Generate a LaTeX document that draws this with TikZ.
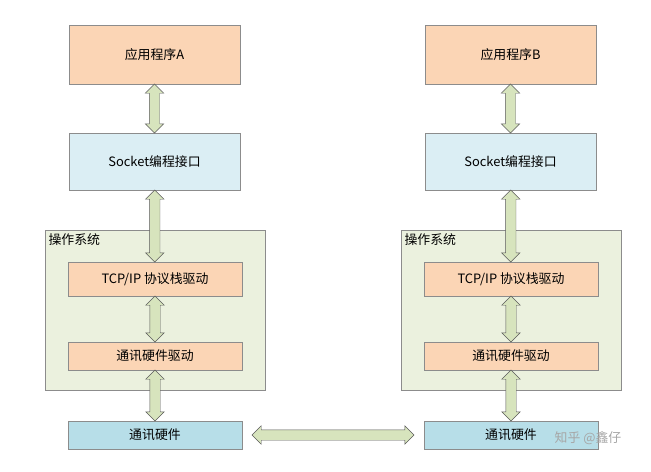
\documentclass[tikz,border=0pt]{standalone}
\usepackage{fontspec}
\setmainfont{Noto Sans CJK SC}
\usetikzlibrary{shapes.arrows}
\definecolor{appfill}{HTML}{FBD5B5}
\definecolor{sockfill}{HTML}{DBEEF4}
\definecolor{osfill}{HTML}{EBF1DE}
\definecolor{hwfill}{HTML}{B7DEE8}
\definecolor{linkfill}{HTML}{D7E4BD}
\begin{document}
\begin{tikzpicture}[x=0.03cm,y=-0.03cm,
  boxstyle/.style={draw=black!45, align=center, font=\fontsize{11}{13}\selectfont},
  app/.style={boxstyle, fill=appfill, minimum width=171*0.03cm, minimum height=59*0.03cm},
  sock/.style={boxstyle, fill=sockfill, minimum width=171*0.03cm, minimum height=57*0.03cm},
  os/.style={draw=black!45, fill=osfill, minimum width=220*0.03cm, minimum height=160*0.03cm},
  layer/.style={boxstyle, fill=appfill, minimum width=174*0.03cm},
  hw/.style={boxstyle, fill=hwfill, minimum width=174*0.03cm, minimum height=28*0.03cm},
  link/.style={double arrow, draw=black!65, fill=linkfill, inner sep=0pt, minimum width=10*0.03cm,
    text height=10*0.03cm, text width=10*0.03cm, text depth=0pt, double arrow head extend=4*0.03cm,
    shape border rotate=90}]
  \useasboundingbox (0,0) rectangle (651,471);
  \foreach \side/\name/\dx in {A/A/0, B/B/356} {
  \begin{scope}[xshift=\dx*0.03cm]
    \node [app] (App\side) at (154.5,54.5) {应用程序\name};
    \node [sock] (Sock\side) at (154.5,161.5) {Socket编程接口};
    \node [os] (OS\side) at (155,310) {};
    \node [anchor=north west, inner sep=3pt, font=\fontsize{11}{13}\selectfont] at (OS\side.north west) {操作系统};
    \node [layer, minimum height=34*0.03cm] (TCP\side) at (155,279) {TCP/IP 协议栈驱动};
    \node [layer, minimum height=28*0.03cm] (Drv\side) at (155,356) {通讯硬件驱动};
    \node [hw] (HW\side) at (155,435) {通讯硬件};
    \path (App\side.south) -- (Sock\side.north) node [link, midway, minimum height=49*0.03cm] {};
    \path (Sock\side.south) -- (TCP\side.north) node [link, midway, minimum height=72*0.03cm] {};
    \path (TCP\side.south) -- (Drv\side.north) node [link, midway, minimum height=46*0.03cm] {};
    \path (Drv\side.south) -- (HW\side.north) node [link, midway, minimum height=51*0.03cm] {};
  \end{scope}
  }
  \path (HWA.east) -- (HWB.west) node [link, midway, shape border rotate=0, minimum height=162*0.03cm] {};
  \node [text=black!35, font=\fontsize{11}{13}\selectfont] (Mark) at (588,438) {知乎 @鑫仔};
\end{tikzpicture}
\end{document}
